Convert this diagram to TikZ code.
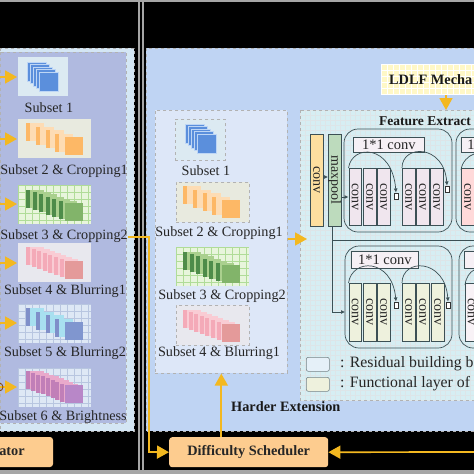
\documentclass[tikz,border=0pt]{standalone}
\usepackage{fontspec}
\setmainfont{Liberation Serif}
\usepackage{xcolor}
\usetikzlibrary{arrows.meta,positioning,calc}
\definecolor{soft}{RGB}{212,230,244}
\definecolor{softtwo}{RGB}{176,186,224}
\definecolor{panel}{RGB}{191,212,243}
\definecolor{softpanel}{RGB}{221,231,248}
\definecolor{featpanel}{RGB}{214,238,243}
\definecolor{arrowc}{RGB}{243,184,32}
\definecolor{sched}{RGB}{253,204,143}
\definecolor{edgec}{RGB}{60,80,85}
\definecolor{convone}{RGB}{240,230,238}
\definecolor{convtwo}{RGB}{238,241,221}
\definecolor{blueone}{RGB}{91,143,220}
\definecolor{bluepale}{RGB}{190,214,245}
\definecolor{orangeone}{RGB}{253,184,102}
\definecolor{orangepale}{RGB}{253,220,180}
\definecolor{greenone}{RGB}{78,140,74}
\definecolor{greenpale}{RGB}{170,208,142}
\definecolor{greenfront}{RGB}{130,180,106}
\definecolor{pinkone}{RGB}{244,170,184}
\definecolor{pinkpale}{RGB}{249,204,212}
\definecolor{pinkfront}{RGB}{228,154,154}
\definecolor{skyone}{RGB}{127,143,201}
\definecolor{skypale}{RGB}{168,224,240}
\definecolor{skyfront}{RGB}{128,150,207}
\definecolor{plumone}{RGB}{193,127,184}
\definecolor{plumpale}{RGB}{233,169,203}
\definecolor{plumfront}{RGB}{184,135,200}
\definecolor{boxone}{RGB}{220,234,242}
\definecolor{boxtwo}{RGB}{232,234,223}
\definecolor{boxthree}{RGB}{232,245,220}
\definecolor{boxfour}{RGB}{232,232,238}
\definecolor{boxfive}{RGB}{222,232,245}
\definecolor{gridgreen}{RGB}{176,220,152}
\definecolor{gridblue}{RGB}{184,198,224}
\newcommand{\stripw}{4}
\newcommand{\slices}[9]{% x, y, dx, dy, n, dark, pale, front, size
  \foreach \i in {1,...,#5} {
    \fill[#7] ({#1+(\i-1)*#3},{#2+(\i-1)*#4}) rectangle +(#9,#9);
    \fill[#6] ({#1+(\i-1)*#3},{#2+(\i-1)*#4}) rectangle +(\stripw,#9);
  }
  \fill[#8] ({#1+#5*#3},{#2+#5*#4}) rectangle +(#9,#9);
}
\newcommand{\bluestack}[2]{%
  \foreach \i in {0,...,4}
    \draw[fill=blueone,draw=bluepale,line width=.7pt] ({#1+\i*3},{#2+\i*2.6}) rectangle +(19,19);
}
\tikzset{
  subsetlabel/.style={font=\fontsize{14.2}{15}\selectfont,text=black!85,inner sep=0pt},
  dashbox/.style={draw=gray!60,dashed,line width=.6pt},
  subbox/.style={minimum height=39pt,inner sep=0pt,anchor=north west},
  orangebox/.style={fill=sched,rounded corners=3pt,font=\fontsize{14.3}{15}\selectfont\bfseries,text=black!85},
  orangeline/.style={draw=arrowc,line width=1.7pt},
  fatarrow/.style={orangeline,-{Triangle[length=12pt,width=13pt]}},
  convcol/.style={draw=edgec,line width=.6pt,inner sep=0pt,minimum width=12.5pt,font=\fontsize{14}{14}\selectfont,text=black!85},
  container/.style={draw=edgec,line width=.7pt,rounded corners=14pt},
  onebox/.style={draw=edgec,line width=.6pt,fill=convone!60,inner sep=0pt,font=\fontsize{14.5}{15}\selectfont,text=black!85},
  skipmark/.style={draw=black!80,fill=white,line width=.5pt,inner sep=0pt,minimum width=4.5pt,minimum height=6.5pt},
  curveline/.style={draw=edgec,line width=.7pt,-{Latex[length=4pt,width=4pt]}},
  edgeline/.style={draw=edgec,line width=.7pt},
  legendbox/.style={draw=edgec!70,line width=.6pt,rounded corners=2pt,minimum width=23pt,minimum height=14pt,inner sep=0pt},
  legendtext/.style={font=\fontsize{15.8}{16}\selectfont,text=black!85,inner sep=0pt,anchor=west},
  titletext/.style={font=\fontsize{14.3}{15}\selectfont\bfseries,text=black!90,inner sep=0pt,anchor=west}
}
\begin{document}
\begin{tikzpicture}[x=1pt,y=-1pt,>=Latex]
\useasboundingbox (0,0) rectangle (474,474);
\clip (0,0) rectangle (474,474);
\fill[black] (0,0) rectangle (474,474);
% frame stripes
\fill[gray!70] (0,0) rectangle (474,2);
\fill[gray!70] (0,470) rectangle (474,474);
\fill[gray!70] (138,0) rectangle (140,474);
\fill[gray!70] (142,0) rectangle (144,474);
% left panel
\fill[soft] (0,48) rectangle (134,431);
\draw[dashbox] (0,48) rectangle (134,431);
\fill[softtwo] (0,52) rectangle (126,423);
\draw[dashbox] (0,52) rectangle (126,423);
\node[subbox,fill=boxone,minimum width=50pt] (leftone) at (18,57) {};
\node[subbox,fill=boxtwo,minimum width=73pt] (lefttwo) at (18,119) {};
\node[subbox,fill=boxthree,minimum width=73pt] (leftthree) at (18,185) {};
\node[subbox,fill=boxfour,minimum width=73pt] (leftfour) at (18,243) {};
\node[subbox,fill=boxfive,minimum width=73pt] (leftfive) at (18,304) {};
\node[subbox,fill=boxfive,minimum width=73pt] (leftsix) at (18,368) {};
\draw[gridgreen,step=7pt,line width=.7pt,shift={(18,185)}] (0,0) grid (73,39);
\draw[gridblue,step=7pt,line width=.5pt,shift={(18,304)}] (0,0) grid (73,39);
\draw[gridblue,step=7pt,line width=.5pt,shift={(18,368)}] (0,0) grid (73,39);
\foreach \y/\lbl/\xc in {108/Subset 1/49,171/Subset 2 \& Cropping1/64,236/Subset 3 \& Cropping2/64,291/Subset 4 \& Blurring1/65,353/Subset 5 \& Blurring2/65,417/Subset 6 \& Brightness/63}
  \node[subsetlabel] at (\xc,\y) {\lbl};
\bluestack{27}{62}
\slices{26}{123}{9.8}{3.5}{4}{orangeone}{orangepale}{orangeone}{18}
\slices{26}{190}{6.5}{2.2}{6}{greenone}{greenpale}{greenfront}{18}
\slices{26}{247}{5.6}{2}{7}{pinkone}{pinkpale}{pinkfront}{18}
\slices{26}{308}{9.8}{3.5}{4}{skyone}{skypale}{skyfront}{18}
\slices{26}{371}{4.9}{1.8}{8}{plumone}{plumpale}{plumfront}{18}
\foreach \y in {77,139,204,263,323,387}
  \draw[fatarrow] (0,\y) -- (17,\y);
\draw[draw=orange!50!black,line width=.8pt] (-1,387) circle (4);
\fill[sched,rounded corners=3pt] (-20,437) rectangle (53,467);
\node[font=\fontsize{14.3}{15}\selectfont\bfseries,text=black!85,inner sep=0pt] (generator) at (12,452) {ator};
% right panel
\fill[panel] (146,48) rectangle (480,431);
\draw[dashbox] (146,48) rectangle (480,431);
\node[fill=softpanel,dashbox,minimum width=132pt,minimum height=263pt,inner sep=0pt,anchor=north west] (subsets) at (155,110) {};
\node[subbox,fill=boxone,dashbox,minimum width=50pt,minimum height=41pt] (rightone) at (175,119) {};
\node[subbox,fill=boxtwo,dashbox,minimum width=73pt,minimum height=40pt] (righttwo) at (176,182) {};
\node[subbox,fill=boxthree,minimum width=73pt] (rightthree) at (176,247) {};
\draw[gridgreen,step=7pt,line width=.7pt,shift={(176,247)}] (0,0) grid (73,39);
\node[subbox,fill=boxfour,dashbox,minimum width=73pt,minimum height=40pt] (rightfour) at (176,305) {};
\node[subsetlabel] at (206,171) {Subset 1};
\node[subsetlabel] at (219,233) {Subset 2 \& Cropping1};
\node[subsetlabel] at (222,296) {Subset 3 \& Cropping2};
\node[subsetlabel] at (219,353) {Subset 4 \& Blurring1};
\bluestack{185}{124}
\slices{183}{186}{9.8}{3.5}{4}{orangeone}{orangepale}{orangeone}{18}
\slices{183}{252}{6.5}{2.2}{6}{greenone}{greenpale}{greenfront}{18}
\slices{183}{310}{5.6}{2}{7}{pinkone}{pinkpale}{pinkfront}{18}
% feature panel
\fill[featpanel] (300,110) rectangle (480,400);
\draw[cyan!20!gray!25,step=5pt,line width=.25pt,shift={(300,110)}] (0,0) grid (180,290);
\draw[dashbox] (300,110) rectangle (480,400);
\node[fill=orange!25!yellow!22!white,minimum width=100pt,minimum height=31pt,inner sep=0pt,anchor=north west] (ldlf) at (381,64) {};
\draw[white,step=6pt,line width=.5pt,shift={(381,64)}] (0,0) grid (100,31);
\node[titletext] at (389,80) {LDLF Mecha};
\node[titletext,font=\fontsize{13.5}{14}\selectfont\bfseries] (feature) at (379,121) {Feature Extract};
% first row
\node[convcol,fill=yellow!35!orange!35!white,minimum height=92pt,anchor=north west] (convin) at (310,134) {\rotatebox{-90}{conv}};
\node[convcol,fill=green!30!gray!40!white,minimum height=92pt,anchor=north west] (maxpool) at (328,134) {\rotatebox{-90}{maxpool}};
\draw[container] (344,129) rectangle (452,232);
\draw[container] (456,129) rectangle (500,232);
\node[onebox,minimum width=71pt,minimum height=15pt,anchor=north west] (onea) at (353,137) {1*1 conv};
\node[onebox,minimum width=13pt,minimum height=15pt,anchor=north west] (oneb) at (461,137) {\hspace*{6pt}1};
\foreach \nm/\x in {a/348.5,b/363,c/377,d/402,e/416,f/430}
  \node[convcol,fill=convone,minimum height=57pt,anchor=north west] (top\nm) at (\x,168) {\rotatebox{-90}{conv}};
\node[convcol,fill=red!15!white,minimum height=57pt,anchor=north west] (topg) at (461,168) {\rotatebox{-90}{conv}};
\node[skipmark] (skipa) at (396,196) {};
\node[skipmark] (skipb) at (447,189) {};
\draw[curveline] (topa.north west) .. controls (352,144) and (392,144) .. (skipa.north);
\draw[curveline] (topd.north west) .. controls (402,144) and (444,144) .. (skipb.north);
\draw[edgeline] (461,170) .. controls (462,162) and (468,156) .. (474,154);
\coordinate (pooltap) at (0,177);
\coordinate (blockin) at (0,197);
\draw[edgeline,-{Latex[length=4pt,width=4pt]}] (convin.east|-pooltap) -- (maxpool.west|-pooltap);
\draw[edgeline,-{Latex[length=4pt,width=4pt]}] (maxpool.east|-blockin) -- (topa.west|-blockin);
% second row
\coordinate (turn) at (332,240);
\draw[edgeline] (maxpool.south-|turn) -- (turn) -- (480,240);
\draw[edgeline,-{Latex[length=4pt,width=4pt]}] (turn) -- (332,312) -- (345,312);
\draw[container] (345,246) rectangle (452,348);
\draw[container] (459,246) rectangle (500,348);
\node[onebox,minimum width=67pt,minimum height=17pt,anchor=north west] (onec) at (351,251) {1*1 conv};
\node[onebox,minimum width=20pt,minimum height=17pt,anchor=north west] (oned) at (464,251) {};
\foreach \nm/\x in {a/348.5,b/363,c/377,d/402,e/416,f/431}
  \node[convcol,fill=convtwo,minimum height=58pt,anchor=north west] (low\nm) at (\x,283) {\rotatebox{-90}{conv}};
\node[convcol,fill=convone!50!white,minimum height=58pt,anchor=north west] (lowg) at (464.5,283) {\rotatebox{-90}{conv}};
\node[skipmark] (skipc) at (396,305) {};
\node[skipmark] (skipd) at (448,305) {};
\draw[curveline] (lowa.north west) .. controls (352,258) and (392,258) .. (skipc.north);
\draw[curveline] (lowd.north west) .. controls (402,258) and (445,258) .. (skipd.north);
\draw[edgeline] (465,285) .. controls (466,277) and (470,272) .. (474,270);
% legend
\node[legendbox,fill=soft!60!white,anchor=north west] (legendone) at (306,357) {};
\node[legendbox,fill=convtwo,anchor=north west] (legendtwo) at (306,377) {};
\node[legendtext] at (340,364) {: Residual building b};
\node[legendtext] at (340,384) {: Functional layer of};
\node[titletext] at (231,407) {Harder Extension};
% scheduler
\node[orangebox,minimum width=159pt,minimum height=30pt,inner sep=0pt,anchor=north west] (scheduler) at (169,437) {Difficulty Scheduler};
\coordinate (startleft) at (128,237);
\coordinate (startright) at (480,452);
\coordinate (featin) at (307,239);
\coordinate (ldlfin) at (446,110);
\draw[fatarrow] (startleft) -- (149,237) -- (149,452) -- (scheduler.west);
\draw[fatarrow] (startright) -- (scheduler.east);
\draw[fatarrow] (scheduler.north-|subsets.south) -- (subsets.south);
\draw[fatarrow] (subsets.east|-featin) -- (featin);
\draw[fatarrow] (ldlf.south-|ldlfin) -- (ldlfin);
\end{tikzpicture}
\end{document}
